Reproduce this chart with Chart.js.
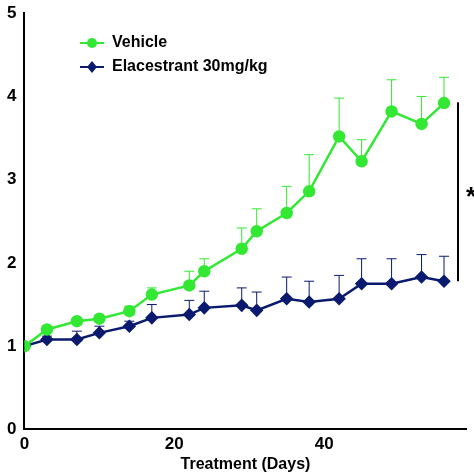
<!DOCTYPE html>
<html><head>
<script src="https://cdn.jsdelivr.net/npm/chart.js@4"></script>
<style>body{margin:0;background:#fff}#c{width:474px;height:474px}</style>
</head><body>
<div id="c"><canvas id="chart"></canvas></div>
<script>
const days = [0, 3, 7, 10, 14, 17, 22, 24, 29, 31, 35, 38, 42, 45, 49, 53, 56];
const vehicle = [1.0, 1.2, 1.3, 1.33, 1.42, 1.62, 1.73, 1.9, 2.17, 2.38, 2.6, 2.86, 3.52, 3.22, 3.82, 3.67, 3.92];
const vehicleErr = [0, 0.04, 0.03, 0.04, 0.06, 0.08, 0.17, 0.15, 0.25, 0.27, 0.32, 0.44, 0.46, 0.26, 0.38, 0.33, 0.31];
const elac = [1.0, 1.08, 1.08, 1.16, 1.24, 1.34, 1.38, 1.46, 1.49, 1.43, 1.57, 1.53, 1.57, 1.75, 1.75, 1.83, 1.78];
const elacErr = [0, 0.04, 0.1, 0.08, 0.06, 0.16, 0.17, 0.2, 0.21, 0.22, 0.26, 0.25, 0.28, 0.3, 0.3, 0.27, 0.3];
const GREEN = '#33e833', NAVY = '#0a1a6e';
const FONT = 'Arial, "Liberation Sans"';

const extras = {
  id: 'extras',
  beforeDatasetsDraw(chart) {
    const {ctx, scales: {x, y}} = chart;
    ctx.save();
    [[vehicle, vehicleErr, GREEN], [elac, elacErr, NAVY]].forEach(([v, e, c]) => {
      ctx.strokeStyle = c; ctx.lineWidth = 1;
      v.forEach((val, i) => {
        if (!e[i]) return;
        const px = x.getPixelForValue(days[i]);
        const y0 = y.getPixelForValue(val), y1 = y.getPixelForValue(val + e[i]);
        ctx.beginPath(); ctx.moveTo(px, y0); ctx.lineTo(px, y1);
        ctx.moveTo(px - 5, y1); ctx.lineTo(px + 5, y1); ctx.stroke();
      });
    });
    ctx.restore();
  },
  afterDraw(chart) {
    const {ctx, scales: {x, y}} = chart;
    ctx.save();
    // significance bar
    const bx = 458;
    ctx.strokeStyle = '#000'; ctx.lineWidth = 2;
    ctx.beginPath(); ctx.moveTo(bx, y.getPixelForValue(3.93)); ctx.lineTo(bx, y.getPixelForValue(1.78)); ctx.stroke();
    ctx.fillStyle = '#000'; ctx.font = 'bold 26px ' + FONT;
    ctx.fillText('*', 466, y.getPixelForValue(2.7));
    // legend
    const items = [['Vehicle', GREEN, 'circle'], ['Elacestrant 30mg/kg', NAVY, 'rectRot']];
    ctx.font = 'bold 16px ' + FONT; ctx.textBaseline = 'middle';
    items.forEach(([t, c, s], i) => {
      const ly = 43 + i * 24;
      ctx.strokeStyle = c; ctx.fillStyle = c; ctx.lineWidth = 2;
      ctx.beginPath(); ctx.moveTo(80, ly); ctx.lineTo(104, ly); ctx.stroke();
      ctx.beginPath();
      if (s === 'circle') ctx.arc(92, ly, 5, 0, Math.PI * 2);
      else { ctx.moveTo(92, ly - 6); ctx.lineTo(97, ly); ctx.lineTo(92, ly + 6); ctx.lineTo(87, ly); ctx.closePath(); }
      ctx.fill();
      ctx.fillStyle = '#000'; ctx.fillText(t, 112, ly);
    });
    ctx.restore();
  }
};

new Chart(document.getElementById('chart'), {
  type: 'scatter',
  data: {
    datasets: [
      { label: 'Vehicle', data: days.map((d, i) => ({x: d, y: vehicle[i]})), showLine: true,
        borderColor: GREEN, backgroundColor: GREEN, borderWidth: 2.5, pointRadius: 5, pointStyle: 'circle' },
      { label: 'Elacestrant 30mg/kg', data: days.map((d, i) => ({x: d, y: elac[i]})), showLine: true,
        borderColor: NAVY, backgroundColor: NAVY, borderWidth: 2.5, pointRadius: 5, pointStyle: 'rectRot' }
    ]
  },
  options: {
    responsive: true, maintainAspectRatio: false, animation: false,
    layout: { padding: { top: 8, right: 0, left: 4 } },
    plugins: { legend: { display: false }, tooltip: { enabled: false } },
    scales: {
      x: { min: 0, max: 59, grid: { display: false, tickLength: 5 },
        border: { color: '#000', width: 2 },
        afterBuildTicks: a => { a.ticks = [0, 20, 40].map(v => ({value: v})); },
        ticks: { color: '#000', font: { size: 17, weight: 'bold', family: FONT }, maxRotation: 0, padding: 0 },
        title: { display: true, text: 'Treatment (Days)', color: '#000', padding: 0,
          font: { size: 16, weight: 'bold', family: FONT } } },
      y: { min: 0, max: 5, grid: { display: false, tickLength: 5 },
        border: { color: '#000', width: 2 },
        ticks: { stepSize: 1, color: '#000', font: { size: 17, weight: 'bold', family: FONT } } }
    }
  },
  plugins: [extras]
});
</script>
</body></html>
